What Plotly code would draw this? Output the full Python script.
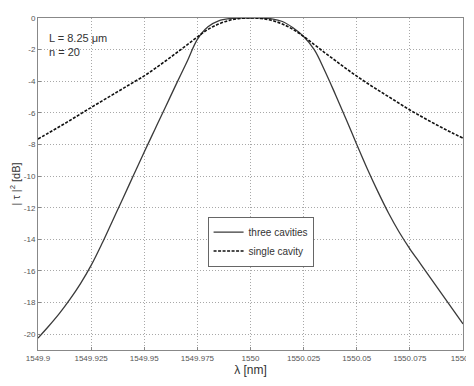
import plotly.graph_objects as go

wavelength = [1549.900, 1549.905, 1549.910, 1549.915, 1549.920, 1549.925, 1549.930,
              1549.935, 1549.940, 1549.945, 1549.950, 1549.955, 1549.960, 1549.965,
              1549.970, 1549.975, 1549.980, 1549.985, 1549.990, 1549.995, 1550.000,
              1550.005, 1550.010, 1550.015, 1550.020, 1550.025, 1550.030, 1550.035,
              1550.040, 1550.045, 1550.050, 1550.055, 1550.060, 1550.065, 1550.070,
              1550.075, 1550.080, 1550.085, 1550.090, 1550.095, 1550.100]

three_cavities = [-20.25, -19.5, -18.7, -17.8, -16.8, -15.65, -14.3, -12.85, -11.4, -9.93,
                  -8.47, -7.05, -5.63, -4.2, -2.8, -1.35, -0.55, -0.18, -0.04, 0.0, 0.0,
                  0.0, -0.05, -0.22, -0.62, -1.17, -2.0, -3.35, -4.85, -6.4, -8.0,
                  -9.55, -11.0, -12.35, -13.55, -14.6, -15.55, -16.5, -17.45, -18.4, -19.35]

single_cavity = [-7.65, -7.27, -6.88, -6.48, -6.07, -5.66, -5.26, -4.86, -4.46, -4.06,
                 -3.66, -3.2, -2.72, -2.22, -1.71, -1.2, -0.72, -0.38, -0.15, -0.03, 0.0,
                 -0.03, -0.15, -0.38, -0.72, -1.17, -1.68, -2.2, -2.7, -3.2, -3.68,
                 -4.13, -4.56, -4.98, -5.4, -5.82, -6.2, -6.57, -6.93, -7.27, -7.6]

x_tickvals = [1549.9, 1549.925, 1549.95, 1549.975, 1550.0, 1550.025, 1550.05, 1550.075, 1550.1]
x_ticktext = ["1549.9", "1549.925", "1549.95", "1549.975", "1550", "1550.025", "1550.05", "1550.075", "1550.1"]
y_tickvals = [0, -2, -4, -6, -8, -10, -12, -14, -16, -18, -20]
y_ticktext = ["0", "-2", "-4", "-6", "-8", "-10", "-12", "-14", "-16", "-18", "-20"]

fig = go.Figure()
fig.add_trace(go.Scatter(x=wavelength, y=three_cavities, mode="lines", name="three cavities",
                         line=dict(color="#3a3a3a", width=1.3, shape="spline", smoothing=1.0)))
fig.add_trace(go.Scatter(x=wavelength, y=single_cavity, mode="lines", name="single cavity",
                         line=dict(color="#111111", width=1.6, dash="3px,1.5px", shape="spline", smoothing=1.0)))

axis_common = dict(showline=True, linecolor="#888888", linewidth=1, mirror=True,
                   showgrid=True, gridcolor="#a8a8a8", griddash="1px,2px", gridwidth=1,
                   ticks="inside", ticklen=3, tickcolor="#888888", zeroline=False,
                   ticklabeloverflow="allow",
                   tickfont=dict(family="Liberation Sans", size=8, color="#555555"))

fig.update_xaxes(range=[1549.9, 1550.1000001], tickvals=x_tickvals, ticktext=x_ticktext,
                 title=dict(text="λ [nm]", font=dict(family="Liberation Sans", size=12, color="#333333"), standoff=0),
                 **axis_common)
fig.update_yaxes(range=[-21, 0.0000001], tickvals=y_tickvals, ticktext=y_ticktext,
                 title=dict(text="| τ |<sup>2</sup> [dB]", font=dict(family="Liberation Sans", size=11, color="#333333"), standoff=2),
                 **axis_common)

fig.add_annotation(x=0.02, y=0.965, xref="paper", yref="paper", xanchor="left", yanchor="top",
                   text="L = 8.25 μm<br>n = 20", showarrow=False, align="left",
                   font=dict(family="Liberation Sans", size=11, color="#333333"))

fig.update_layout(
    width=474, height=386,
    margin=dict(l=30, r=10, t=6, b=44),
    paper_bgcolor="white", plot_bgcolor="white",
    showlegend=True,
    legend=dict(x=0.399, y=0.402, xanchor="left", yanchor="top",
                bgcolor="white", bordercolor="#666666", borderwidth=1,
                font=dict(family="Liberation Sans", size=10, color="#333333"),
                tracegroupgap=2, itemwidth=30),
)

fig.write_html("out.html")
